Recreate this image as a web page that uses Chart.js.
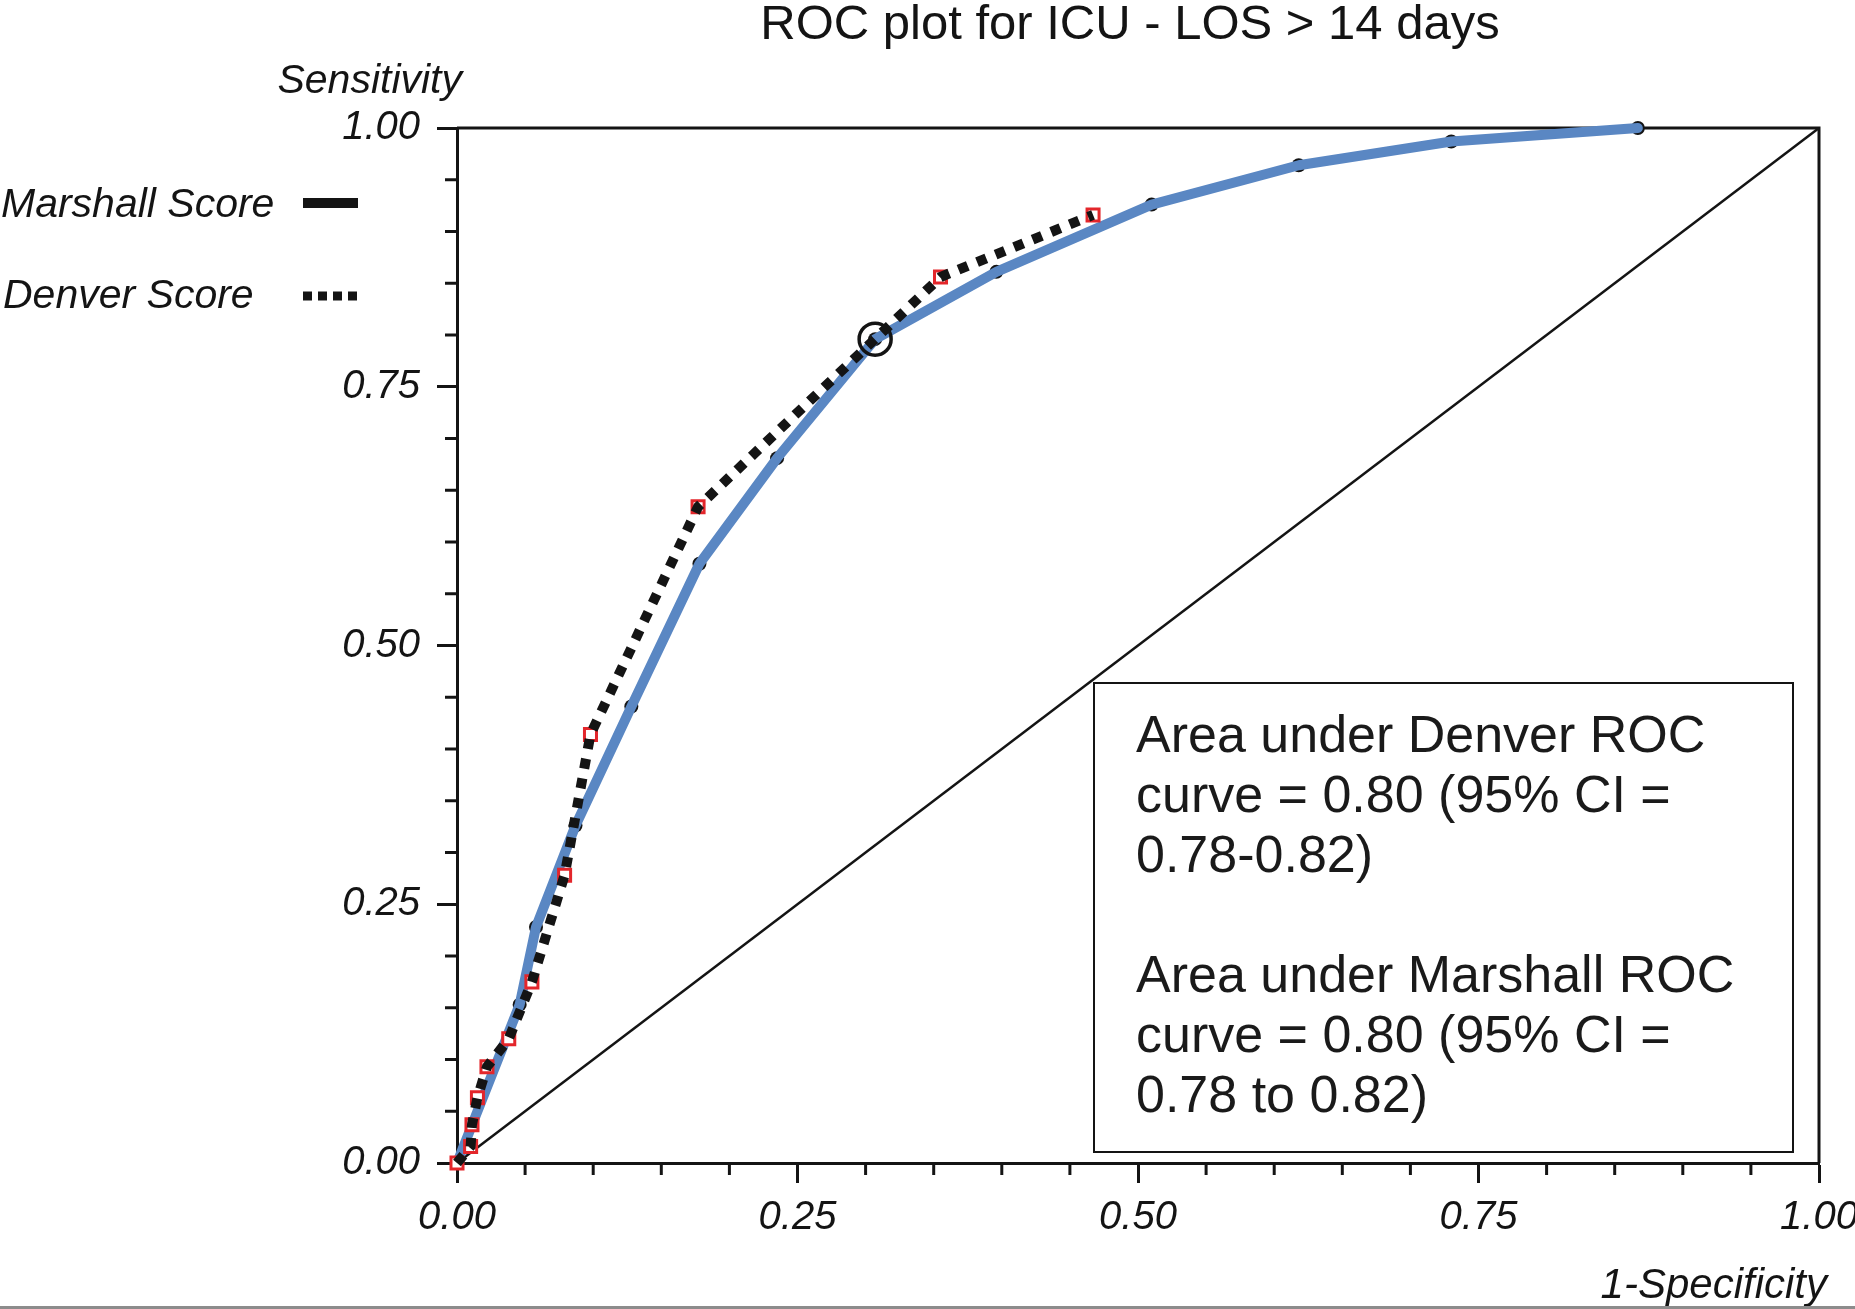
<!DOCTYPE html>
<html>
<head>
<meta charset="utf-8">
<title>ROC plot for ICU - LOS > 14 days</title>
<script src="https://cdn.jsdelivr.net/npm/chart.js@4.4.1/dist/chart.umd.min.js"></script>
<style>
  html, body { margin: 0; padding: 0; background: #fff; }
  #miGrafica { display: block; }
</style>
</head>
<body>
<canvas id="miGrafica" width="1855" height="1309"></canvas>
<script>
// datos (1-especificidad, sensibilidad)
const marshallFpr = [0, 0.046, 0.058, 0.087, 0.128, 0.178, 0.235, 0.307, 0.396, 0.510, 0.618, 0.730, 0.867];
const marshallTpr = [0, 0.153, 0.228, 0.326, 0.441, 0.579, 0.681, 0.796, 0.861, 0.926, 0.964, 0.987, 1.000];

const denverFpr = [0, 0.010, 0.011, 0.015, 0.022, 0.038, 0.055, 0.079, 0.098, 0.177, 0.355, 0.467];
const denverTpr = [0, 0.016, 0.037, 0.063, 0.093, 0.120, 0.175, 0.278, 0.414, 0.634, 0.856, 0.916];

const cutoffFpr = [0.307];
const cutoffTpr = [0.796];

const diagonalFpr = [0, 1];
const diagonalTpr = [0, 1];

const majorTicks = [0, 0.25, 0.5, 0.75, 1];
const seriesNames = ["Marshall Score", "Denver Score"];
const titleText = "ROC plot for ICU - LOS > 14 days";
const yTitle = "Sensitivity";
const xTitle = "1-Specificity";
const boxLines = [
    "Area under Denver ROC",
    "curve = 0.80 (95% CI =",
    "0.78-0.82)",
    "",
    "Area under Marshall ROC",
    "curve = 0.80 (95% CI =",
    "0.78 to 0.82)"
];

const FONT = "'Liberation Sans', Arial, Helvetica, sans-serif";
const azul = "#5a87c3";
const rojo = "#e3262b";
const negro = "#141414";

function puntos(xs, ys) {
    return xs.map((x, i) => ({ x: x, y: ys[i] }));
}

// marcas menores cada 0.05
const minorTicks = [];
for (let i = 1; i < 20; i++) {
    if (i % 5 !== 0) minorTicks.push(i / 20);
}

const extras = {
    id: "extras",
    beforeDatasetsDraw(chart) {
        const ctx = chart.ctx;
        const a = chart.chartArea;
        const xs = chart.scales.x;
        const ys = chart.scales.y;
        ctx.save();
        ctx.strokeStyle = negro;
        ctx.lineWidth = 3;
        minorTicks.forEach(v => {
            const px = xs.getPixelForValue(v);
            ctx.beginPath();
            ctx.moveTo(px, a.bottom);
            ctx.lineTo(px, a.bottom + 12);
            ctx.stroke();
            const py = ys.getPixelForValue(v);
            ctx.beginPath();
            ctx.moveTo(a.left - 12, py);
            ctx.lineTo(a.left, py);
            ctx.stroke();
        });
        // marco superior y derecho
        ctx.beginPath();
        ctx.moveTo(a.left, a.top);
        ctx.lineTo(a.right, a.top);
        ctx.lineTo(a.right, a.bottom);
        ctx.stroke();
        ctx.restore();
    },
    afterDraw(chart) {
        const ctx = chart.ctx;
        ctx.save();
        ctx.fillStyle = negro;

        // titulo
        ctx.font = "49px " + FONT;
        ctx.textAlign = "center";
        ctx.textBaseline = "alphabetic";
        ctx.fillText(titleText, 1130, 39);

        // titulos de ejes
        ctx.font = "italic 41px " + FONT;
        ctx.textAlign = "right";
        ctx.fillText(yTitle, 462, 93);
        ctx.font = "italic 42px " + FONT;
        ctx.fillText(xTitle, 1827, 1298);

        // leyenda
        ctx.font = "italic 41px " + FONT;
        ctx.textAlign = "left";
        ctx.fillText(seriesNames[0], 1, 217);
        ctx.fillText(seriesNames[1], 3, 308);
        ctx.strokeStyle = negro;
        ctx.lineWidth = 10;
        ctx.beginPath();
        ctx.moveTo(303, 203);
        ctx.lineTo(358, 203);
        ctx.stroke();
        ctx.lineWidth = 9;
        ctx.setLineDash([9, 6]);
        ctx.beginPath();
        ctx.moveTo(303, 296);
        ctx.lineTo(360, 296);
        ctx.stroke();
        ctx.setLineDash([]);

        // cuadro de texto
        ctx.lineWidth = 2;
        ctx.strokeRect(1094, 683, 699, 469);
        ctx.font = "52px " + FONT;
        ctx.fillStyle = "#1a1a1a";
        boxLines.forEach((t, i) => {
            ctx.fillText(t, 1136, 752 + i * 60);
        });

        // linea gris inferior
        ctx.fillStyle = "#8c8c8c";
        ctx.fillRect(0, 1306, 1855, 3);
        ctx.restore();
    }
};

const ctx = document.getElementById("miGrafica").getContext("2d");

new Chart(ctx, {
    type: "scatter",
    data: {
        datasets: [
            {
                label: seriesNames[1],
                data: puntos(denverFpr, denverTpr),
                showLine: true,
                borderColor: negro,
                borderWidth: 10,
                borderDash: [10, 10],
                borderCapStyle: "butt",
                pointRadius: 0,
                clip: false,
                order: 0
            },
            {
                label: "corte",
                data: puntos(cutoffFpr, cutoffTpr),
                pointStyle: "circle",
                pointRadius: 16,
                pointBorderWidth: 3.5,
                pointBorderColor: negro,
                pointBackgroundColor: "rgba(0,0,0,0)",
                clip: false,
                order: 1
            },
            {
                label: "Denver puntos",
                data: puntos(denverFpr, denverTpr),
                pointStyle: "rect",
                pointRadius: 8.5,
                pointBorderWidth: 3,
                pointBorderColor: rojo,
                pointBackgroundColor: "#ffffff",
                clip: false,
                order: 2
            },
            {
                label: seriesNames[0],
                data: puntos(marshallFpr, marshallTpr),
                showLine: true,
                borderColor: azul,
                borderWidth: 10,
                borderJoinStyle: "round",
                borderCapStyle: "round",
                pointRadius: 0,
                clip: false,
                order: 3
            },
            {
                label: "Marshall puntos",
                data: puntos(marshallFpr, marshallTpr),
                pointRadius: 7,
                pointBorderWidth: 0,
                pointBackgroundColor: negro,
                clip: false,
                order: 4
            },
            {
                label: "diagonal",
                data: puntos(diagonalFpr, diagonalTpr),
                showLine: true,
                borderColor: negro,
                borderWidth: 2.5,
                pointRadius: 0,
                clip: false,
                order: 5
            }
        ]
    },
    options: {
        responsive: false,
        animation: false,
        devicePixelRatio: 1,
        layout: { padding: { top: 128, right: 36, bottom: 0, left: 0 } },
        plugins: {
            legend: { display: false },
            tooltip: { enabled: false },
            title: { display: false }
        },
        scales: {
            x: {
                type: "linear",
                position: "bottom",
                min: 0,
                max: 1,
                afterBuildTicks: (scale) => {
                    scale.ticks = majorTicks.map(v => ({ value: v }));
                },
                ticks: {
                    callback: (v) => Number(v).toFixed(2),
                    font: { family: FONT, size: 40, style: "italic" },
                    color: negro,
                    padding: 11,
                    maxRotation: 0,
                    autoSkip: false
                },
                grid: {
                    drawOnChartArea: false,
                    drawTicks: true,
                    tickLength: 20,
                    tickWidth: 3,
                    tickColor: negro
                },
                border: { display: true, width: 3, color: negro },
                afterFit: (scale) => {
                    scale.height = 146;
                    scale.paddingLeft = 0;
                    scale.paddingRight = 0;
                }
            },
            y: {
                type: "linear",
                position: "left",
                min: 0,
                max: 1,
                afterBuildTicks: (scale) => {
                    scale.ticks = majorTicks.map(v => ({ value: v }));
                },
                ticks: {
                    callback: (v) => Number(v).toFixed(2),
                    font: { family: FONT, size: 40, style: "italic" },
                    color: negro,
                    padding: 17,
                    autoSkip: false
                },
                grid: {
                    drawOnChartArea: false,
                    drawTicks: true,
                    tickLength: 20,
                    tickWidth: 3,
                    tickColor: negro
                },
                border: { display: true, width: 3, color: negro },
                afterFit: (scale) => {
                    scale.width = 457;
                    scale.paddingTop = 0;
                    scale.paddingBottom = 0;
                }
            }
        }
    },
    plugins: [extras]
});
</script>
</body>
</html>
